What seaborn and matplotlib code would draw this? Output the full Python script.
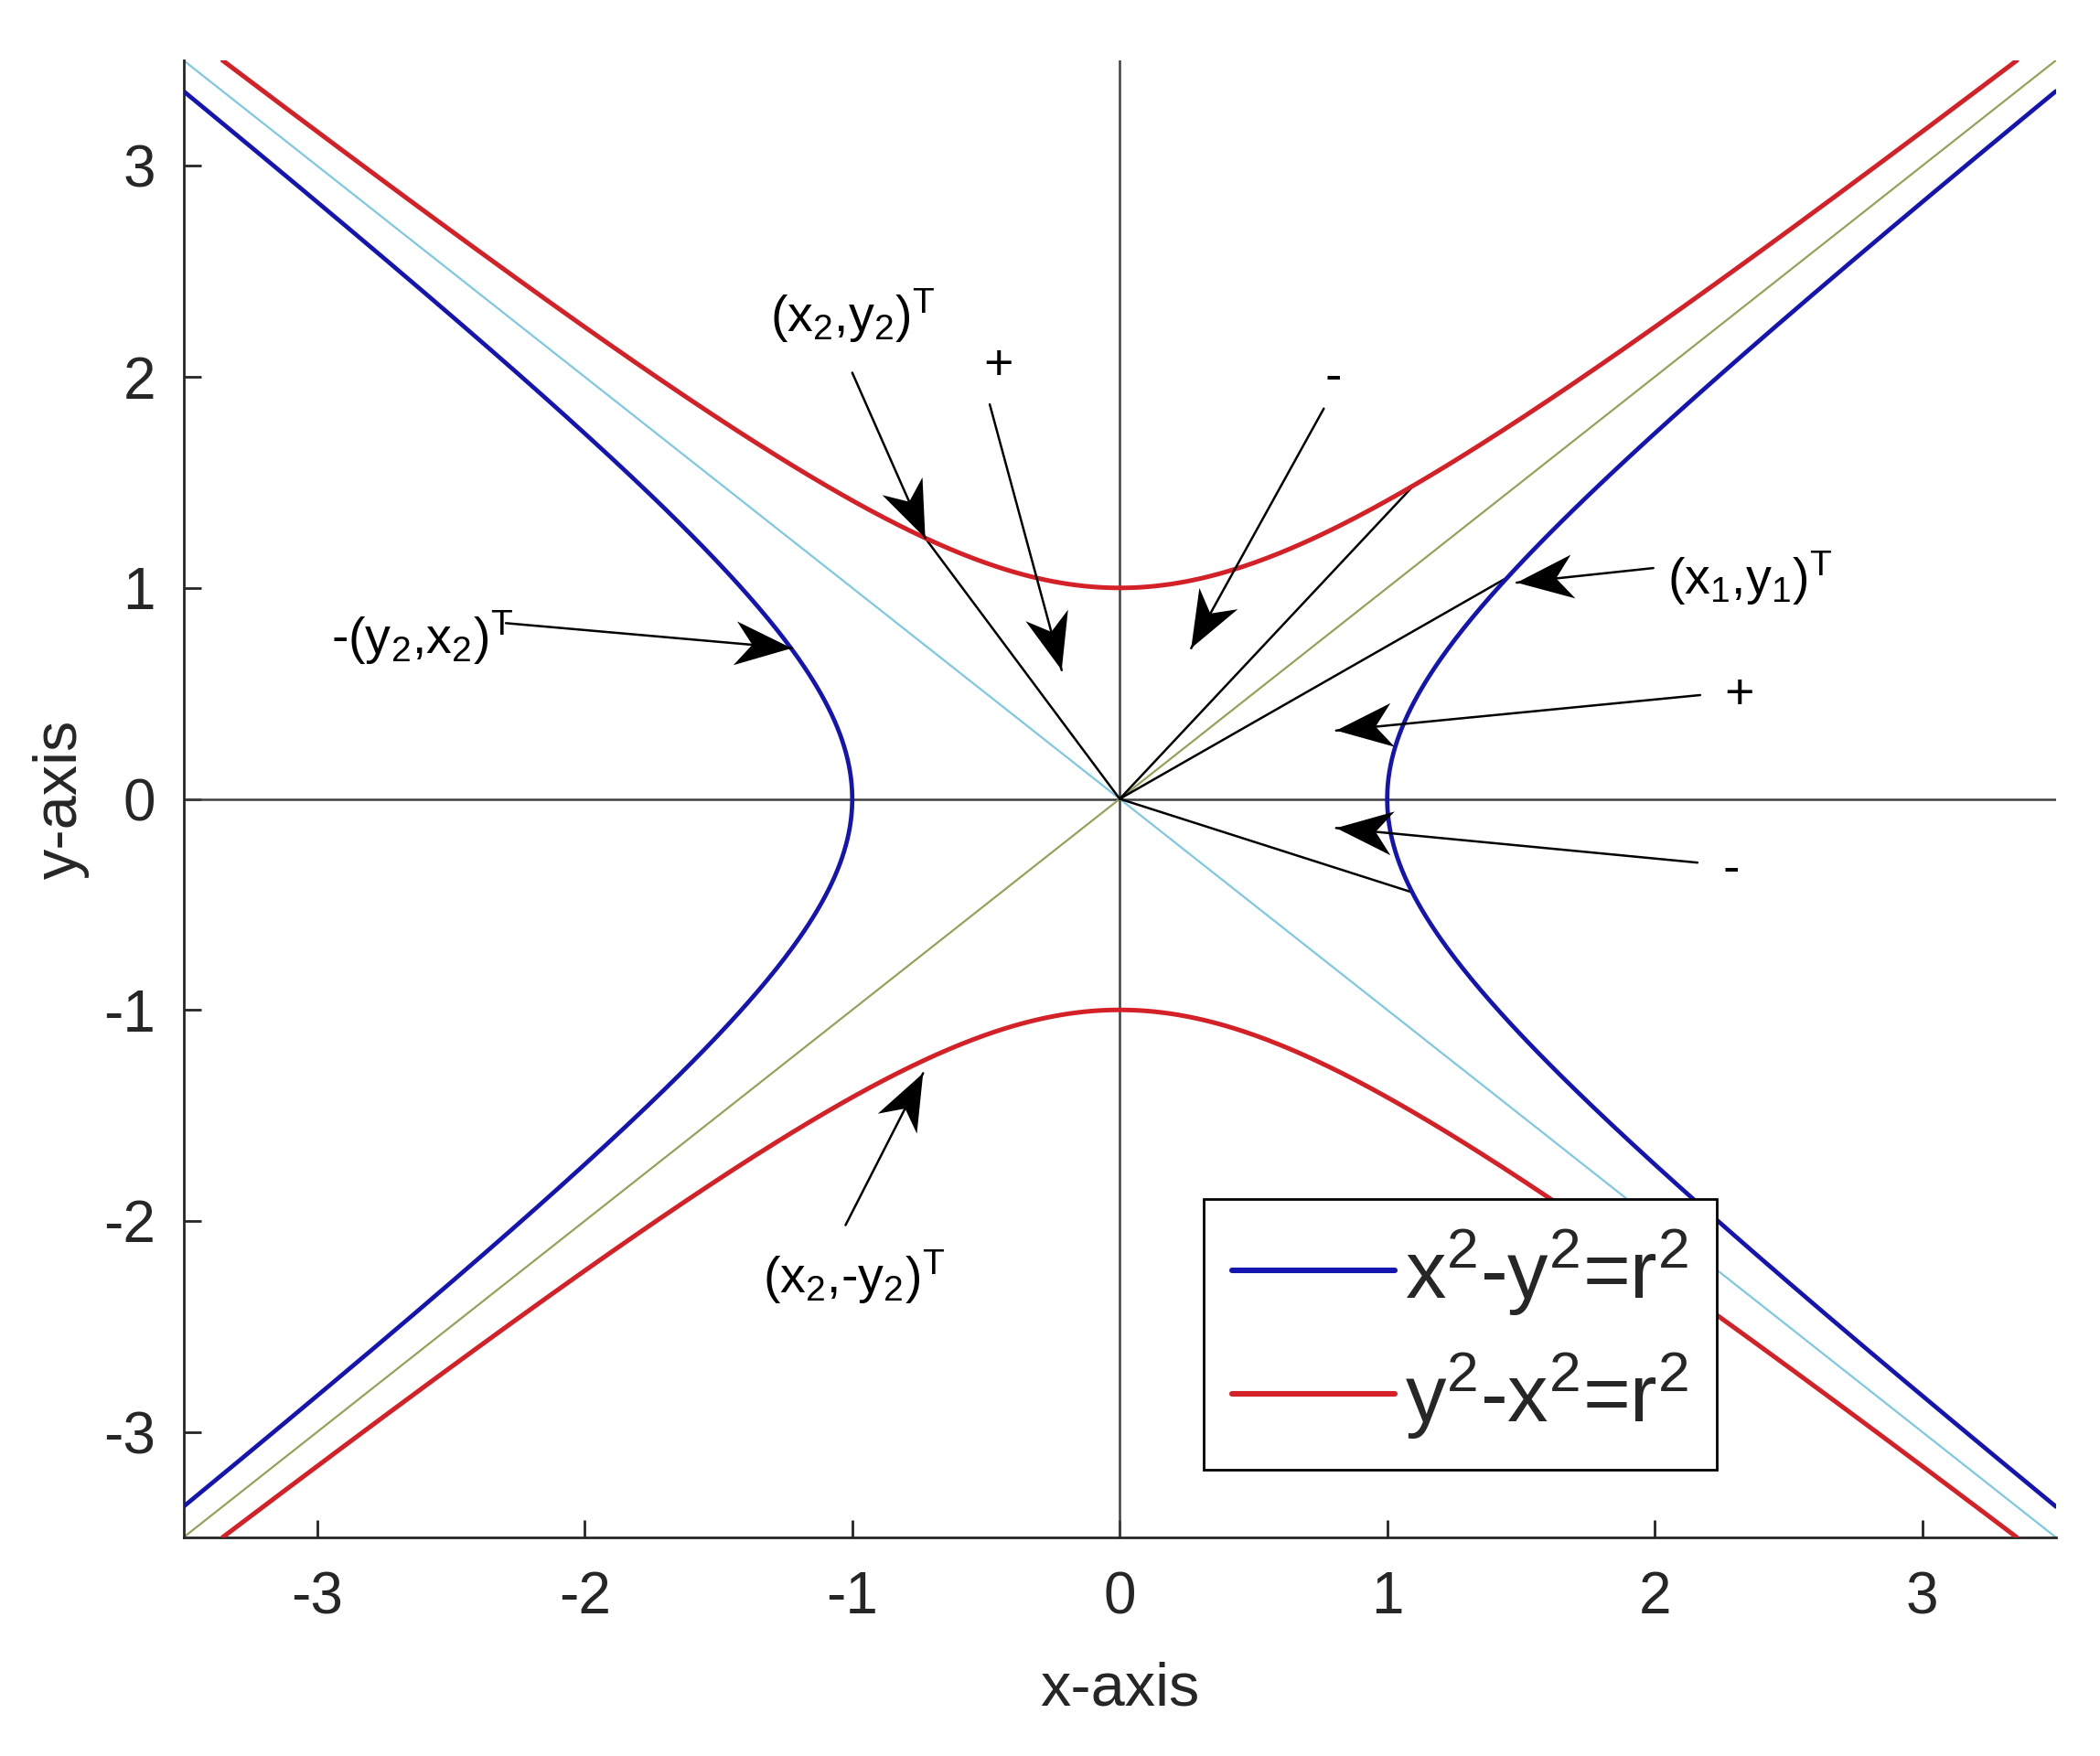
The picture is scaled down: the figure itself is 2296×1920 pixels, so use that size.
import numpy as np
import matplotlib
matplotlib.use('Agg')
import matplotlib.pyplot as plt
import pandas as pd
import seaborn as sns
from matplotlib.lines import Line2D
from matplotlib.patches import Polygon
from matplotlib.transforms import IdentityTransform

# hyperbola radius and the plotting box
r = 1.0
lim = 3.5
ticks = [-3, -2, -1, 0, 1, 2, 3]

# asymptotes y = x and y = -x across the box
asym_x = [-lim, lim]
asym_up_y = [-lim, lim]
asym_down_y = [lim, -lim]

# points on the curves that the black rays from the origin go to
ray_x = [-0.727, 1.10, 1.45, 1.094]
ray_y = [1.236, 1.487, 1.05, -0.443]

# text labels
label_text = ['(x$_2$,y$_2$)$^T$', '+', '-', '(x$_1$,y$_1$)$^T$', '+', '-',
              '-(y$_2$,x$_2$)$^T$', '(x$_2$,-y$_2$)$^T$']
label_x = [-1.00, -0.455, 0.80, 2.355, 2.315, 2.285, -2.61, -0.995]
label_y = [2.29, 2.05, 1.99, 1.047, 0.486, -0.34, 0.763, -2.265]

# arrows: tail -> tip
tail_x = [-1.00, -0.486, 0.763, 1.995, 2.17, 2.16, -2.295, -1.025]
tail_y = [2.02, 1.87, 1.85, 1.094, 0.492, -0.302, 0.833, -2.02]
tip_x = [-0.727, -0.217, 0.267, 1.484, 0.809, 0.809, -1.226, -0.735]
tip_y = [1.236, 0.61, 0.714, 1.025, 0.324, -0.138, 0.714, -1.30]

blue = '#1414b0'
red = '#d42027'

# curves x^2-y^2=r^2 and y^2-x^2=r^2, branches run until they leave the box
t = np.linspace(-np.arccosh(lim / r), np.arccosh(lim / r), 400)
blue_df = pd.concat([
    pd.DataFrame({'x': r * np.cosh(t), 'y': r * np.sinh(t), 'branch': 'right'}),
    pd.DataFrame({'x': -r * np.cosh(t), 'y': r * np.sinh(t), 'branch': 'left'}),
])
red_df = pd.concat([
    pd.DataFrame({'x': r * np.sinh(t), 'y': r * np.cosh(t), 'branch': 'top'}),
    pd.DataFrame({'x': r * np.sinh(t), 'y': -r * np.cosh(t), 'branch': 'bottom'}),
])

sns.set_style('ticks')
plt.rcParams['font.family'] = ['Liberation Sans', 'DejaVu Sans']
plt.rcParams['mathtext.default'] = 'regular'
plt.rcParams['axes.unicode_minus'] = False

fig = plt.figure(figsize=(11.48, 9.6), dpi=200)
ax = fig.add_axes([0.0874, 0.1245, 0.8916, 0.8411])
ax.set_xlim(-lim, lim)
ax.set_ylim(-lim, lim)

ax.axhline(0, color='#404040', lw=0.9, zorder=1)
ax.axvline(0, color='#404040', lw=0.9, zorder=1)

ax.plot(asym_x, asym_up_y, color='#98a05a', lw=0.8, zorder=2)
ax.plot(asym_x, asym_down_y, color='#7ec8e3', lw=0.8, zorder=2)

for px, py in zip(ray_x, ray_y):
    ax.plot([0, px], [0, py], color='black', lw=0.9, zorder=3)

sns.lineplot(data=blue_df, x='x', y='y', units='branch', estimator=None, sort=False,
             color=blue, lw=1.7, legend=False, ax=ax, zorder=4)
sns.lineplot(data=red_df, x='x', y='y', units='branch', estimator=None, sort=False,
             color=red, lw=1.8, legend=False, ax=ax, zorder=4)


def dart(tx, ty, hx, hy, length=62, half_w=24, notch=0.7):
    # matlab style arrow: thin shaft and a filled head with a concave back
    p0 = ax.transData.transform((tx, ty))
    p1 = ax.transData.transform((hx, hy))
    d = (p1 - p0) / np.hypot(*(p1 - p0))
    n = np.array([-d[1], d[0]])
    base = p1 - d * length
    head = [p1, base + n * half_w, p1 - d * length * notch, base - n * half_w]
    ax.plot([tx, hx], [ty, hy], color='black', lw=0.9, zorder=5)
    ax.add_patch(Polygon(head, closed=True, color='black', lw=0,
                         transform=IdentityTransform(), zorder=5))


for tx, ty, hx, hy in zip(tail_x, tail_y, tip_x, tip_y):
    dart(tx, ty, hx, hy)

for txt, lx, ly in zip(label_text, label_x, label_y):
    ax.text(lx, ly, txt, fontsize=20, color='black', ha='center', va='center', zorder=6)

ax.set_xticks(ticks)
ax.set_yticks(ticks)
ax.tick_params(direction='in', length=7, width=1, labelsize=23, colors='#262626', pad=13)
ax.tick_params(axis='y', pad=11)
for side in ['top', 'right']:
    ax.spines[side].set_visible(False)
for side in ['left', 'bottom']:
    ax.spines[side].set_color('#262626')
    ax.spines[side].set_linewidth(1.0)

ax.set_xlabel('x-axis', fontsize=24, color='#262626')
ax.set_ylabel('y-axis', fontsize=24, color='#262626')
ax.xaxis.set_label_coords(0.5, -0.084)
ax.yaxis.set_label_coords(-0.05, 0.5)

handles = [Line2D([], [], color=blue, lw=2.2), Line2D([], [], color=red, lw=2.2)]
leg = ax.legend(handles, ['x$^2$-y$^2$=r$^2$', 'y$^2$-x$^2$=r$^2$'], fontsize=32,
                loc='upper left', bbox_to_anchor=(0.5732, 0.3174),
                bbox_transform=fig.transFigure, borderaxespad=0, fancybox=False,
                framealpha=1, edgecolor='black', handlelength=2.0, handletextpad=0.12,
                labelspacing=0.4, borderpad=0.35)
leg.get_frame().set_linewidth(1.0)
leg.set_zorder(7)

fig.savefig('out.png', dpi=200, facecolor='white')
